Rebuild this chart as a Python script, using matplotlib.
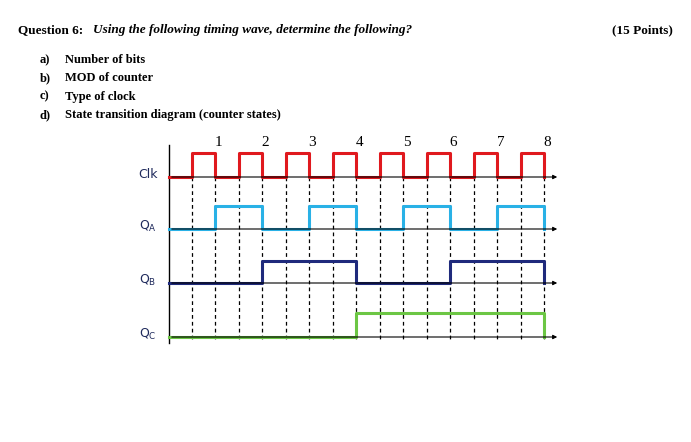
import matplotlib
matplotlib.use("Agg")
import matplotlib.pyplot as plt
import numpy as np

edge_labels = ["1", "2", "3", "4", "5", "6", "7", "8"]
signal_names = ["Clk", "$\\mathsf{Q_A}$", "$\\mathsf{Q_B}$", "$\\mathsf{Q_C}$"]
# levels in each clock interval (between falling edges), starting before edge 1
qa = [0, 1, 0, 1, 0, 1, 0, 1, 0]
qb = [0, 0, 1, 1, 0, 0, 1, 1, 0]
qc = [0, 0, 0, 0, 1, 1, 1, 1, 0]
items = [("a)", "Number of bits"), ("b)", "MOD of counter"),
         ("c)", "Type of clock"), ("d)", "State transition diagram (counter states)")]

fig = plt.figure(figsize=(6.91, 4.42), dpi=100)
ax = fig.add_axes([0, 0, 1, 1])
ax.set_xlim(0, 691); ax.set_ylim(442, 0); ax.axis("off")

serif = "Liberation Serif"
ax.text(18, 30, "Question 6: ", fontfamily=serif, fontweight="bold", fontsize=9.5, va="center")
ax.text(93, 30, "Using the following timing wave, determine the following?", fontfamily=serif,
        fontweight="bold", fontstyle="italic", fontsize=9.5, va="center")
ax.text(673, 30, "(15 Points)", fontfamily=serif, fontweight="bold", fontsize=9.5, va="center", ha="right")
for i, (a, b) in enumerate(items):
    y = 60 + i * 18.3
    ax.text(40, y, a, fontfamily=serif, fontweight="bold", fontsize=9, va="center")
    ax.text(65, y, b, fontfamily=serif, fontweight="bold", fontsize=9, va="center")

x0, rise0, half = 169, 192, 23.5
falls = [rise0 + half + 2 * half * k for k in range(8)]
rises = [rise0 + 2 * half * k for k in range(8)]
bases = [177, 229, 283, 337]
highs = [153, 206, 261, 313]
colors = ["#e0191e", "#29b1e6", "#1f2a7c", "#6cc644"]
xend = 560

# axis
ax.plot([x0, x0], [145, 343], color="black", lw=1)
for b in bases:
    ax.annotate("", xy=(xend, b), xytext=(x0, b),
                arrowprops=dict(arrowstyle="-|>", color="black", lw=0.8, mutation_scale=6))
# dashed lines
for x in rises + falls:
    ax.plot([x, x], [bases[0], 340], color="black", lw=0.9, ls=(0, (3, 2.5)))

# clock
cx, cy = [x0], [bases[0]]
for r, f in zip(rises, falls):
    cx += [r, r, f, f]; cy += [bases[0], highs[0], highs[0], bases[0]]
ax.plot(cx, cy, color=colors[0], lw=2.2)

def wave(levels, b, h, c):
    xs = [x0]; ys = [b if levels[0] == 0 else h]
    for k, f in enumerate(falls):
        xs += [f, f]
        ys += [b if levels[k] == 0 else h, b if levels[k + 1] == 0 else h]
    ax.plot(xs, ys, color=c, lw=2.2)

for lv, b, h, c in zip([qa, qb, qc], bases[1:], highs[1:], colors[1:]):
    wave(lv, b, h, c)

for lab, b in zip(signal_names, bases):
    ax.text(148, b - 3, lab, fontsize=9, color="#1f2a5c", ha="center", va="center", fontfamily="DejaVu Sans")
for lab, f in zip(edge_labels, falls):
    ax.text(f + 3, 143, lab, fontfamily=serif, fontsize=11, ha="center", va="center")

fig.savefig("out.png", dpi=100)
